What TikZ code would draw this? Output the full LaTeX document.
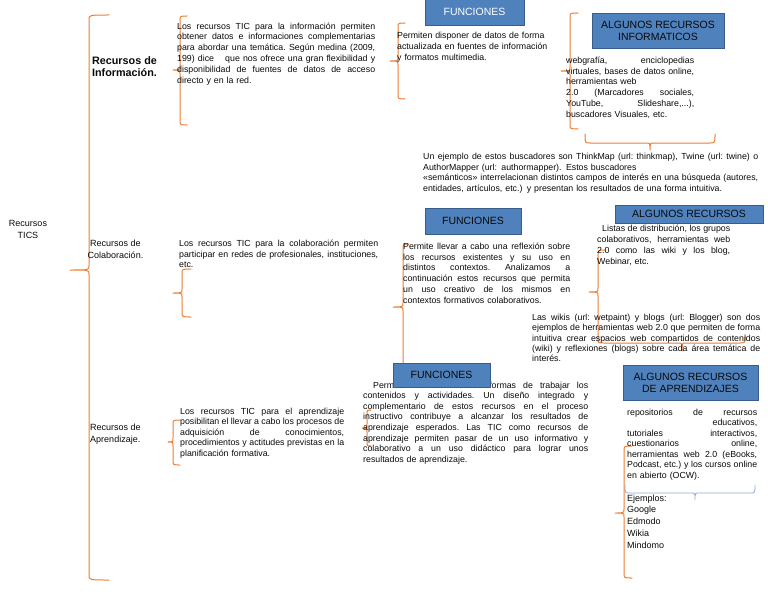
\documentclass[tikz,border=0pt]{standalone}
\usepackage{fontspec}
\setmainfont{Liberation Sans}
\definecolor{brorange}{RGB}{237,125,49}
\definecolor{brblue}{RGB}{143,170,220}
\definecolor{boxfill}{RGB}{79,129,189}
\definecolor{boxline}{RGB}{56,93,138}
\definecolor{txtc}{RGB}{10,10,10}
\newcommand\jline[1]{\leavevmode\hbox to \hsize{\spaceskip=0.278em plus 1fil minus 0.09em\relax\xspaceskip=\spaceskip #1}}
\newcommand\fst{\rule{0pt}{8pt}}
% left-facing brace: X, y1, y2, ymid, tip, curl width
\newcommand\bracel[6]{%
  \draw[brc] ({#1+#6},#2) .. controls (#1,#2) .. (#1,{#2+5}) -- (#1,{#4-4})
    .. controls (#1,#4) .. ({#1-#5},#4) .. controls (#1,#4) .. (#1,{#4+4})
    -- (#1,{#3-5}) .. controls (#1,#3) .. ({#1+#6},#3);}
% downward brace: Y, x1, x2, xmid, tip, end height
\newcommand\braced[7]{%
  \draw[#7] (#2,{#1-#6}) .. controls (#2,#1) .. ({#2+5},#1) -- ({#4-4},#1)
    .. controls (#4,#1) .. (#4,{#1+#5}) .. controls (#4,#1) .. ({#4+4},#1)
    -- ({#3-5},#1) .. controls (#3,#1) .. (#3,{#1-#6});}
\begin{document}
\begin{tikzpicture}[x=1pt,y=-1pt,
  brc/.style={draw=brorange,line width=1pt,line cap=round,line join=round},
  brb/.style={draw=brblue,line width=0.8pt,line cap=round},
  txt/.style={anchor=north west,inner sep=0pt,align=left,text=txtc,
    font=\fontsize{8.8}{10.8}\selectfont},
  lbl/.style={inner sep=0pt,text=txtc,font=\fontsize{9}{12}\selectfont},
  bx/.style={draw=boxline,fill=boxfill,line width=0.9pt,inner sep=0pt,
    align=center,text=txtc,font=\fontsize{10.5}{12}\selectfont}]
\useasboundingbox[fill=white] (0,0) rectangle (768,594);

% braces
\bracel{89}{15}{580}{270}{19}{20}
\bracel{180}{16}{125}{70}{7}{7}
\bracel{398}{23}{99}{61}{8}{7}
\bracel{570}{13}{129}{71}{9}{8}
\bracel{182}{269}{317}{293}{9}{9}
\bracel{403}{244}{378}{307}{10}{6}
\bracel{367}{410}{446}{428}{5}{4}
\bracel{173}{420}{465}{442}{5}{7}
\bracel{624}{446}{578}{513}{9}{8}
\draw[brc] (606,250) .. controls (598,250) .. (598,255) -- (598,288)
  .. controls (598,292) .. (589,292) .. controls (598,292) .. (598,296)
  -- (598,338) .. controls (598,343) .. (604,343) -- (678,343)
  .. controls (682,343) .. (682,351) .. controls (682,343) .. (686,343)
  -- (740,343) .. controls (745,343) .. (745,335);
\braced{143}{585}{715}{650}{7}{9}{brc}
\braced{493}{625}{755}{695}{7}{8}{brb}

% labels
\node[lbl,align=center] (tics) at (28,229) {Recursos\\TICS};
\node[inner sep=0pt,align=left,text=txtc,font=\fontsize{10.8}{12}\selectfont\bfseries]
  (linfo) at (124.5,67) {Recursos de\\Información.};
\node[lbl,align=center] (lcol) at (115.5,249) {Recursos de\\Colaboración.};
\node[lbl,align=left] (lapr) at (115.5,434.5) {Recursos de\\Aprendizaje.};

% texts
\node[txt,text width=198pt] (tinfo) at (177,21) {\fst\jline{Los recursos TIC para la información permiten}\\
\jline{obtener datos e informaciones complementarias}\\
\jline{para abordar una temática. Según medina (2009,}\\
\jline{199) dice\hspace{8pt} que nos ofrece una gran flexibilidad y}\\
\jline{disponibilidad de fuentes de datos de acceso}\\
directo y en la red.};

\node[txt,text width=170pt,font=\fontsize{8.8}{11}\selectfont] (tinfofun) at (397,30) {\fst Permiten disponer de datos de forma\\
actualizada en fuentes de información\\
y formatos multimedia.};

\node[txt,text width=128pt] (tinform) at (566,55) {\fst\jline{webgrafía, enciclopedias}\\
\jline{virtuales, bases de datos online,}\\
herramientas web\\
\jline{2.0 (Marcadores sociales,}\\
\jline{YouTube, Slideshare,...),}\\
buscadores Visuales, etc.};

\node[txt,text width=335pt] (tejem) at (423,151) {\fst\jline{Un ejemplo de estos buscadores son ThinkMap (url: thinkmap), Twine (url: twine) o}\\
AuthorMapper (url: authormapper). Estos buscadores\\
\jline{«semánticos» interrelacionan distintos campos de interés en una búsqueda (autores,}\\
entidades, artículos, etc.) y presentan los resultados de una forma intuitiva.};

\node[txt,text width=199pt] (tcol) at (179,238) {\fst\jline{Los recursos TIC para la colaboración permiten}\\
\jline{participar en redes de profesionales, instituciones,}\\
etc.};

\node[txt,text width=167pt] (tcolfun) at (403,241) {\fst\jline{Permite llevar a cabo una reflexión sobre}\\
\jline{los recursos existentes y su uso en}\\
\jline{distintos contextos. Analizamos a}\\
\jline{continuación estos recursos que permita}\\
\jline{un uso creativo de los mismos en}\\
contextos formativos colaborativos.};

\node[txt,text width=133pt,font=\fontsize{8.8}{11}\selectfont] (tcolrec) at (597,223) {\fst\jline{\hspace{5pt}Listas de distribución, los grupos}\\
\jline{colaborativos, herramientas web}\\
\jline{2.0 como las wiki y los blog,}\\
Webinar, etc.};

\node[txt,text width=228pt,font=\fontsize{8.8}{10.4}\selectfont] (twikis) at (532,312) {\fst\jline{Las wikis (url: wetpaint) y blogs (url: Blogger) son dos}\\
\jline{ejemplos de herramientas web 2.0 que permiten de forma}\\
\jline{intuitiva crear espacios web compartidos de contenidos}\\
\jline{(wiki) y reflexiones (blogs) sobre cada área temática de}\\
interés.};

\node[txt,text width=164pt,font=\fontsize{8.8}{10.5}\selectfont] (tapr) at (180,406) {\fst\jline{Los recursos TIC para el aprendizaje}\\
\jline{posibilitan el llevar a cabo los procesos de}\\
\jline{adquisición de conocimientos,}\\
\jline{procedimientos y actitudes previstas en la}\\
planificación formativa.};

\node[txt,text width=225pt,font=\fontsize{8.8}{10.57}\selectfont] (taprfun) at (363,380) {\fst\jline{\hspace{10pt}Permiten conocer nuevas formas de trabajar los}\\
\jline{contenidos y actividades. Un diseño integrado y}\\
\jline{complementario de estos recursos en el proceso}\\
\jline{instructivo contribuye a alcanzar los resultados de}\\
\jline{aprendizaje esperados. Las TIC como recursos de}\\
\jline{aprendizaje permiten pasar de un uso informativo y}\\
\jline{colaborativo a un uso didáctico para lograr unos}\\
resultados de aprendizaje.};

\node[txt,text width=130pt,font=\fontsize{8.8}{10.5}\selectfont] (taprrec) at (627,407) {\fst\jline{repositorios de recursos}\\
\jline{\hfill educativos,}\\
\jline{tutoriales interactivos,}\\
\jline{cuestionarios online,}\\
\jline{herramientas web 2.0 (eBooks,}\\
\jline{Podcast, etc.) y los cursos online}\\
en abierto (OCW).};

\node[txt,font=\fontsize{9}{11.7}\selectfont] (tejemplos) at (627,493) {\fst Ejemplos:\\Google\\Edmodo\\Wikia\\Mindomo};

% boxes
\node[bx,text=white,minimum width=99pt,minimum height=26pt] (f1) at (474.5,12) {FUNCIONES};
\node[bx,minimum width=132pt,minimum height=35pt] (a1) at (658,30.5) {ALGUNOS RECURSOS\\INFORMATICOS};
\node[bx,minimum width=96pt,minimum height=26pt] (f2) at (473,221) {FUNCIONES};
\node[bx,minimum width=148pt,minimum height=18pt] (a2) at (689,214) {ALGUNOS RECURSOS};
\node[bx,minimum width=97pt,minimum height=24pt] (f3) at (441.5,375) {FUNCIONES};
\node[bx,minimum width=135pt,minimum height=35pt] (a3) at (690.5,382.5) {ALGUNOS RECURSOS\\DE APRENDIZAJES};
\end{tikzpicture}
\end{document}
